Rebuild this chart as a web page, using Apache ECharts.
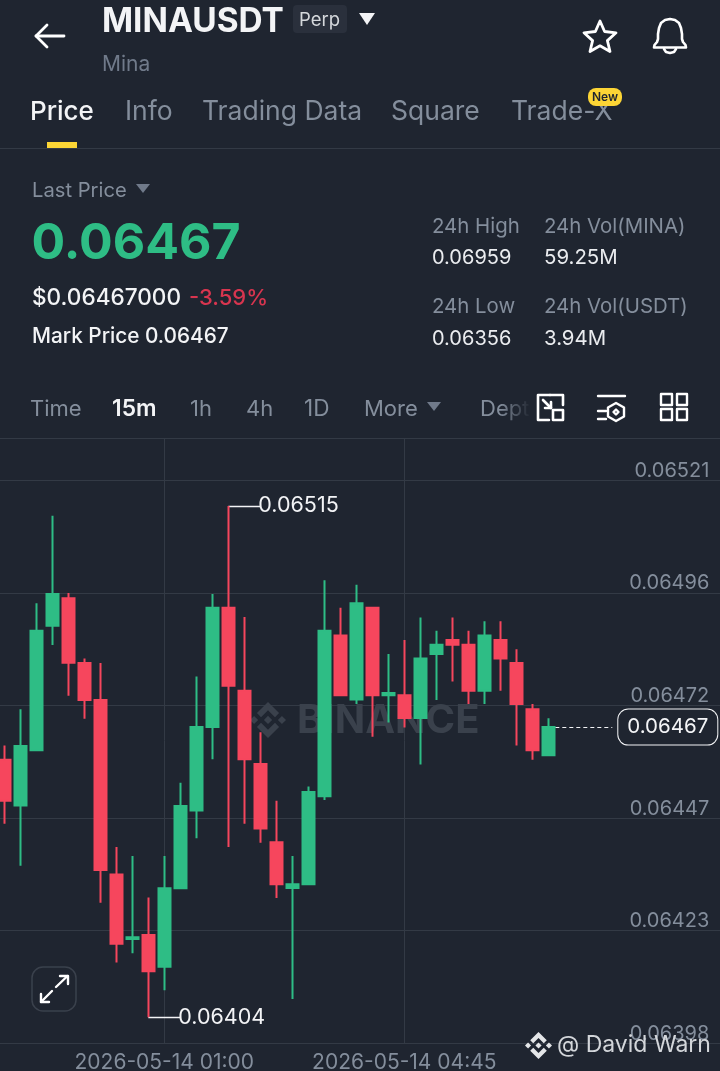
<!DOCTYPE html>
<html>
<head>
<meta charset="utf-8">
<style>html,body{margin:0;padding:0;background:#1f2530}#c{width:720px;height:1071px}</style>
<script src="https://cdn.jsdelivr.net/npm/echarts@6/dist/echarts.min.js"></script>
</head>
<body>
<div id="c"></div>
<script>
const categories = [
 '2026-05-13 22:30','2026-05-13 22:45','2026-05-13 23:00','2026-05-13 23:15','2026-05-13 23:30','2026-05-13 23:45',
 '2026-05-14 00:00','2026-05-14 00:15','2026-05-14 00:30','2026-05-14 00:45','2026-05-14 01:00','2026-05-14 01:15',
 '2026-05-14 01:30','2026-05-14 01:45','2026-05-14 02:00','2026-05-14 02:15','2026-05-14 02:30','2026-05-14 02:45',
 '2026-05-14 03:00','2026-05-14 03:15','2026-05-14 03:30','2026-05-14 03:45','2026-05-14 04:00','2026-05-14 04:15',
 '2026-05-14 04:30','2026-05-14 04:45','2026-05-14 05:00','2026-05-14 05:15','2026-05-14 05:30','2026-05-14 05:45',
 '2026-05-14 06:00','2026-05-14 06:15','2026-05-14 06:30','2026-05-14 06:45','2026-05-14 07:00','2026-05-14 07:15',
 '2026-05-14 07:30','2026-05-14 07:45','2026-05-14 08:00','2026-05-14 08:15','2026-05-14 08:30','2026-05-14 08:45',
 '2026-05-14 09:00','2026-05-14 09:15','2026-05-14 09:30','2026-05-14 09:45'];
const opens  = [0.064599,0.064500,0.064620,0.064890,0.064950,0.064809,0.064729,0.064350,0.064210,0.064219,0.064150,0.064320,0.064489,0.064670,0.064929,0.064749,0.064590,0.064420,0.064321,0.064329,0.064520,0.064869,0.064730,0.064929,0.064739,0.064739,0.064690,0.064829,0.064859,0.064849,0.064749,0.064859,0.064809,0.064709,0.064609];
const closes = [0.064510,0.064629,0.064879,0.064959,0.064810,0.064729,0.064360,0.064200,0.064214,0.064140,0.064320,0.064499,0.064670,0.064929,0.064760,0.064600,0.064450,0.064329,0.064329,0.064529,0.064879,0.064739,0.064939,0.064739,0.064744,0.064690,0.064819,0.064849,0.064849,0.064749,0.064869,0.064819,0.064720,0.064620,0.064670];
const lows   = [0.064460,0.064369,0.064620,0.064848,0.064738,0.064688,0.064289,0.064159,0.064179,0.064040,0.064099,0.064320,0.064429,0.064600,0.064410,0.064460,0.064419,0.064299,0.064080,0.064327,0.064512,0.064739,0.064720,0.064649,0.064680,0.064669,0.064589,0.064729,0.064769,0.064720,0.064720,0.064749,0.064630,0.064599,0.064609];
const highs  = [0.064630,0.064709,0.064939,0.065129,0.064961,0.064819,0.064809,0.064410,0.064390,0.064300,0.064390,0.064549,0.064780,0.064959,0.065150,0.064909,0.064659,0.064510,0.064390,0.064541,0.064989,0.064929,0.064979,0.064929,0.064829,0.064859,0.064908,0.064879,0.064908,0.064879,0.064900,0.064900,0.064839,0.064720,0.064689];
const highPrice = 0.06515, lowPrice = 0.06404, lastPrice = 0.06467;
const axisStep = 0.000244215, axisMin = 0.06398433, axisMax = 0.0652976;
const labelledTimes = ['2026-05-14 01:00','2026-05-14 04:45'];

const BG='#1f2530', GREEN='#2ebd85', RED='#f6465d', GREY='#848e9c', WHITE='#eaecef', FONT='Inter';
const LOGO=[
 [[38.73,53.2],[63.32,28.62],[87.92,53.22],[102.22,38.91],[63.32,0],[24.43,38.9]],
 [[0,63.31],[14.3,49],[28.61,63.31],[14.3,77.61]],
 [[38.73,73.41],[63.32,98],[87.92,73.4],[102.23,87.69],[63.33,126.6],[24.42,87.72]],
 [[98,63.31],[112.3,49],[126.61,63.3],[112.3,77.62]],
 [[77.83,63.3],[63.32,48.78],[48.81,63.28],[63.32,77.78]]];

function logo(x,y,size,color,z){
  const s=size/126.6;
  return LOGO.map(p=>({type:'polygon',z,silent:true,shape:{points:p.map(q=>[x+q[0]*s,y+q[1]*s])},style:{fill:color}}));
}
function t(text,x,y,size,fill,weight,align){
  return {type:'text',z:20,silent:true,style:{text,x,y:y+1.5,fill,font:(weight||400)+' '+size+'px '+FONT,textAlign:align||'left',textVerticalAlign:'middle'}};
}
// d: "M x y L x y ... Z" pieces, each drawn as a polyline or closed polygon
function stroke(d,w,color){
  return d.split('M').filter(Boolean).map(part=>{
    const closed=part.includes('Z');
    const points=part.replace('Z','').split('L').map(s=>s.trim().split(/\s+/).map(Number));
    return {type:closed?'polygon':'polyline',z:20,silent:true,shape:{points},
      style:{fill:'none',stroke:color||'#fff',lineWidth:w||2.6,lineCap:'round',lineJoin:'round'}};
  });
}
function tri(points,color){return {type:'polygon',z:20,silent:true,shape:{points},style:{fill:color}};}
const graphics=[].concat(
  stroke('M64 36L36 36M47 25L36 36L47 47',2.8),
  t('MINAUSDT',102,20,33.4,'#f3f4f6',700),
  {type:'rect',z:19,silent:true,shape:{x:293,y:5,width:54,height:28,r:4},style:{fill:'#2a303c'}},
  t('Perp',299,19,18.5,'#d5d8dc'),
  tri([[359,13],[375,13],[367,25]],'#f3f4f6'),
  t('Mina',102,63,21,'#707a8a'),
  stroke('M600 21L604.6 31.5L616 32.8L607.4 40.6L610 51.5L600 45.8L590 51.5L592.6 40.6L584 32.8L595.4 31.5Z',2.8),
  stroke('M670 19L665 20L661 23L659 28L658 34L658 39L657 42L654.5 45L654 47.5L686 47.5L685.5 45L683 42L682 39L682 34L681 28L679 23L675 20ZM664 49L666 52L670 53L674 52L676 49',2.6),
  t('Price',30,111,26,'#f3f4f6',500),
  t('Info',125,111,26.5,GREY),
  t('Trading Data',202,111,26.5,GREY),
  t('Square',391,111,26.5,GREY),
  t('Trade-X',511,111,26.5,GREY),
  {type:'rect',z:21,silent:true,shape:{x:588,y:88,width:34,height:18,r:8},style:{fill:'#fcd535'}},
  {type:'text',z:22,silent:true,style:{text:'New',x:605,y:97.5,fill:'#1f2530',font:'600 12px '+FONT,textAlign:'center',textVerticalAlign:'middle'}},
  {type:'rect',z:20,silent:true,shape:{x:47,y:142,width:30,height:6},style:{fill:'#fcd535'}},
  {type:'rect',z:20,silent:true,shape:{x:0,y:148,width:720,height:1},style:{fill:'#333a45'}},
  t('Last Price',32,189,20.2,GREY),
  tri([[136,184],[150,184],[143,193]],'#707a8a'),
  t('0.06467',31.5,242,50,GREEN,700),
  t('$0.06467000',32,297,22.6,'#f3f4f6',500),
  t('-3.59%',189,297,22,'#d8354f',500),
  t('Mark Price 0.06467',32,335,20.8,'#f3f4f6',500),
  t('24h High',432,225,20.4,GREY),
  t('0.06959',432,256.5,20,WHITE),
  t('24h Vol(MINA)',544,225,20.4,GREY),
  t('59.25M',544,256.5,20.4,WHITE),
  t('24h Low',432,305,20.4,GREY),
  t('0.06356',432,337,20,WHITE),
  t('24h Vol(USDT)',544,305,20.4,GREY),
  t('3.94M',544,337,20.4,WHITE),
  t('Time',30,408,22,GREY),
  t('15m',112,408,22.8,'#f3f4f6',600),
  t('1h',190,408,22,GREY),
  t('4h',246,408,22,GREY),
  t('1D',304,408,22.6,GREY),
  t('More',364,408,22,GREY),
  tri([[427,402],[441,402],[434,411]],'#707a8a'),
  t('Dept',480,408,22,GREY),
  {type:'rect',z:21,silent:true,shape:{x:500,y:392,width:36,height:32},style:{fill:{type:'linear',x:0,y:0,x2:1,y2:0,colorStops:[{offset:0,color:'rgba(31,37,48,0)'},{offset:0.85,color:BG}]}}},
  stroke('M550 395L538 395L538 420L549 420M563 405L563 395L550 395M553 410L563 410L563 420L553 420ZM543 400L551 408M551 402L551 408L545 408',2.6),
  stroke('M598 396L625 396M598 411L606 411M598 419L606 419M616 403L624 407.5L624 416.5L616 421L608 416.5L608 407.5ZM616 409.5L618.5 412L616 414.5L613.5 412Z',2.4),
  stroke('M661 394L672 394L672 405L661 405ZM677 394L687 394L687 405L677 405ZM661 409L672 409L672 420L661 420ZM677 409L687 409L687 420L677 420Z',2.4),
  logo(250,702,36,'#3a414c',1),
  {type:'text',z:1,silent:true,style:{text:'BINANCE',x:297,y:721,fill:'#3a414c',font:'700 40px '+FONT,textVerticalAlign:'middle'}},
  {type:'rect',z:20,silent:true,shape:{x:32,y:967,width:44,height:44,r:11},style:{fill:'none',stroke:'#3a414c',lineWidth:1.5}},
  stroke('M56 987L67.5 976M60 976L68 976L68 984M52 991L41 1002M41 994L41 1002L49 1002',2.4),
  logo(525,1032,27,'#e4e6e8',30),
  {type:'text',z:30,silent:true,style:{text:'@ David Warn',x:557,y:1045.5,fill:'#d3d6da',font:'400 23px '+FONT,textVerticalAlign:'middle'}}
);
const showLabelled=(i,v)=>labelledTimes.includes(v);
const noteLabel=(text)=>({show:true,position:'end',formatter:text,distance:-2,color:'#f3f4f6',fontFamily:FONT,fontSize:21.5,align:'left',padding:[4,0,0,0]});
const noteLine={color:'#f3f4f6',width:1.3,type:'solid'};

const chart=echarts.init(document.getElementById('c'),null,{renderer:'canvas'});
chart.setOption({
  animation:false,
  backgroundColor:BG,
  grid:{left:-3.7,top:438,width:736,bottom:28,containLabel:false,outerBoundsMode:'none'},
  xAxis:{type:'category',data:categories,boundaryGap:true,
    axisLine:{show:false},axisTick:{show:false},
    axisLabel:{interval:showLabelled,color:GREY,fontFamily:FONT,fontSize:21,margin:9,hideOverlap:false},
    splitLine:{show:true,interval:showLabelled,alignWithLabel:true,lineStyle:{color:'#333a45',width:1}}},
  yAxis:{type:'value',position:'right',min:axisMin,max:axisMax,interval:axisStep,scale:true,
    axisLine:{show:false},axisTick:{show:false},
    axisLabel:{inside:true,margin:23,showMaxLabel:false,verticalAlign:'bottom',lineHeight:19,color:GREY,fontFamily:FONT,fontSize:20,formatter:v=>v.toFixed(5)},
    splitLine:{show:true,lineStyle:{color:'#333a45',width:1}}},
  series:[{type:'candlestick',barWidth:12.5,clip:true,
    data:opens.map((o,i)=>[o,closes[i],lows[i],highs[i]]),
    itemStyle:{color:GREEN,color0:RED,borderColor:GREEN,borderColor0:RED,borderWidth:2},
    markLine:{silent:true,symbol:'none',z:1,animation:false,precision:6,data:[
      [{coord:[categories[14],highPrice],lineStyle:noteLine,label:noteLabel(highPrice.toFixed(5))},{coord:[categories[16],highPrice]}],
      [{coord:[categories[9],lowPrice],lineStyle:noteLine,label:noteLabel(lowPrice.toFixed(5))},{coord:[categories[11],lowPrice]}],
      [{coord:[categories[34],lastPrice],
        lineStyle:{color:'#f3f4f6',width:1.2,type:[4,3]},
        label:{show:true,position:'end',distance:6,formatter:lastPrice.toFixed(5),color:'#f3f4f6',fontFamily:FONT,fontSize:20.5,align:'left',
          borderColor:'#f3f4f6',borderWidth:1,borderRadius:10,padding:[9,9,5,9],backgroundColor:BG}},
       {coord:[categories[38],lastPrice]}]
    ]}
  }],
  graphic:graphics
});
</script>
</body>
</html>
